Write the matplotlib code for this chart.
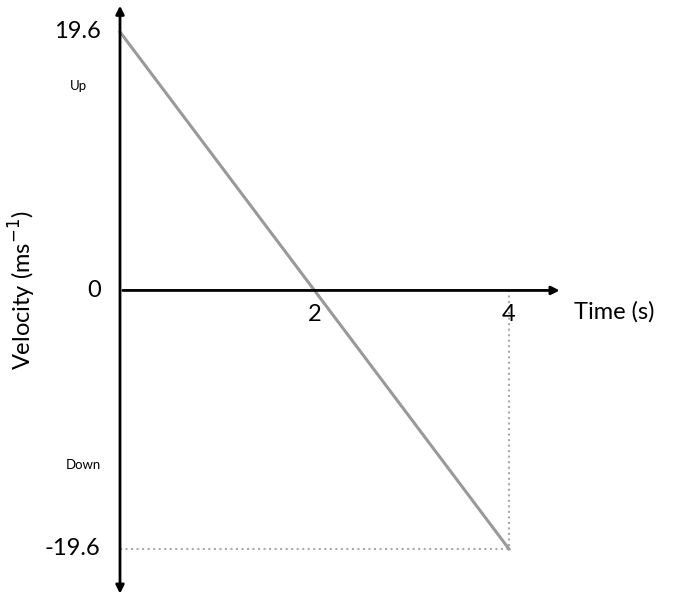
import matplotlib
matplotlib.use("Agg")
import matplotlib.pyplot as plt

# velocity-time data
times = [0, 4]
velocities = [19.6, -19.6]
x_ticks = [2, 4]
y_ticks = [19.6, 0, -19.6]
y_tick_labels = ["19.6", "0", "-19.6"]

plt.rcParams["font.family"] = ["Lato", "DejaVu Sans"]

fig = plt.figure(figsize=(6.88, 6.0), dpi=100)
ax = fig.add_axes([0, 0, 1, 1])
ax.set_xlim(-1.234, 5.841)
ax.set_ylim(-23.47, 22.02)
ax.axis("off")

# axes with arrows
ax.annotate("", xy=(0, 21.8), xytext=(0, -23.2),
            arrowprops=dict(arrowstyle="<|-|>", color="black", lw=2, mutation_scale=12))
ax.annotate("", xy=(4.55, 0), xytext=(0, 0),
            arrowprops=dict(arrowstyle="-|>", color="black", lw=2, mutation_scale=12))

# helper dotted lines
ax.plot([times[1], times[1]], [0, velocities[1]], color="#aaaaaa", ls=":", lw=1.5)
ax.plot([0, times[1]], [velocities[1], velocities[1]], color="#aaaaaa", ls=":", lw=1.5)

# the line
ax.plot(times, velocities, color="#999999", lw=2.2)

for v, lab in zip(y_ticks, y_tick_labels):
    ax.text(-0.2, v, lab, ha="right", va="center", fontsize=17)
for t in x_ticks:
    ax.text(t, -1.0, str(t), ha="center", va="top", fontsize=17)

ax.text(4.67, -1.6, "Time (s)", ha="left", va="center", fontsize=17)
ax.text(-1.0, 0, "Velocity (ms$^{-1}$)", ha="center", va="center",
        rotation=90, fontsize=17)
ax.text(-0.34, 15.5, "Up", ha="right", va="center", fontsize=9.5)
ax.text(-0.2, -13.2, "Down", ha="right", va="center", fontsize=9.5)

fig.savefig("out.png", dpi=100)
